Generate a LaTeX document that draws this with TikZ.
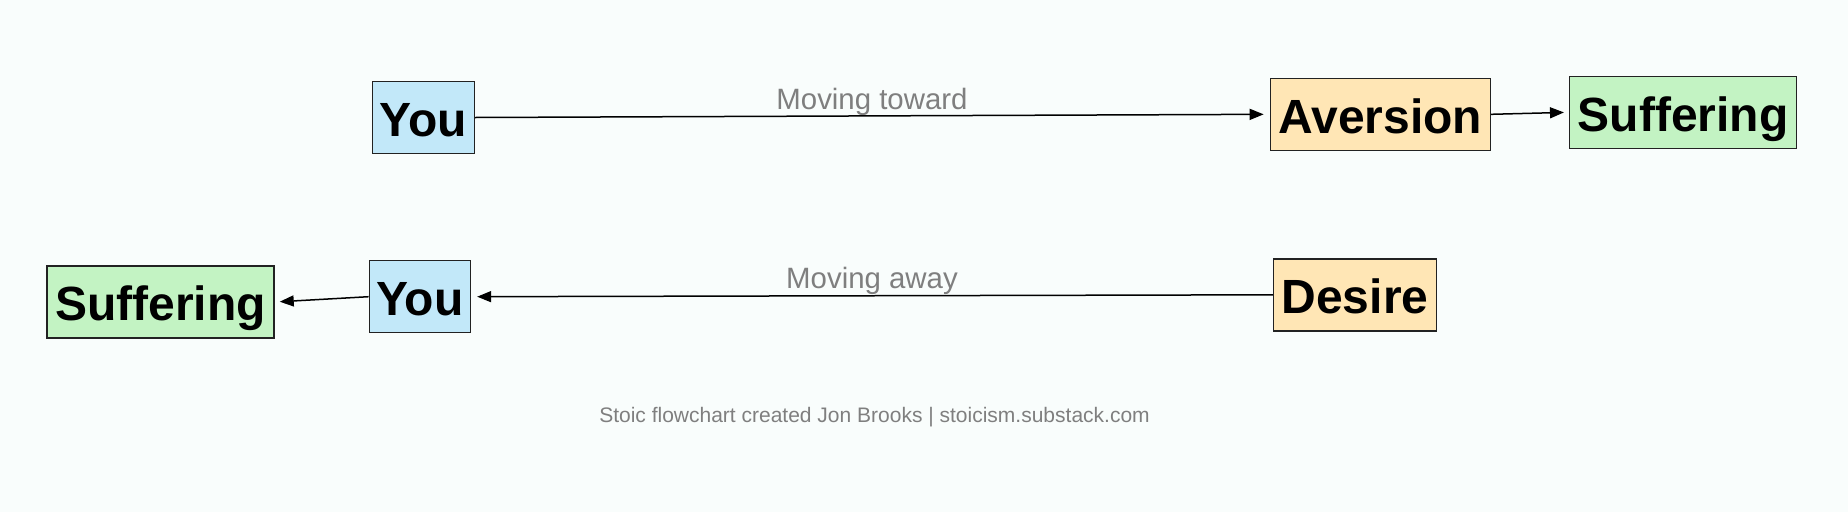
\documentclass[tikz,border=0pt]{standalone}
\usepackage{fontspec}
\setmainfont{Liberation Sans}
\usetikzlibrary{arrows.meta}
\definecolor{bgc}{HTML}{F9FDFC}
\definecolor{youc}{HTML}{C2E8F9}
\definecolor{orc}{HTML}{FFE6B5}
\definecolor{grc}{HTML}{C3F3C3}
\definecolor{edgec}{HTML}{222222}
\definecolor{txtgray}{HTML}{7F7F7F}
\begin{document}
\begin{tikzpicture}[x=1pt,y=-1pt,
  box/.style={draw=edgec,line width=1.5pt,inner sep=0pt,font=\fontsize{48}{52}\selectfont\bfseries,text=black,text height=37.4pt,text depth=0pt},
  conn/.style={draw=black,line width=1.5pt,-{Triangle[length=14pt,width=11pt]}},
  lbl/.style={text=txtgray,font=\fontsize{29.4}{33}\selectfont,anchor=base,inner sep=0pt},
  foot/.style={text=txtgray,font=\fontsize{21}{24}\selectfont,anchor=base,inner sep=0pt}]
\fill[bgc] (0,0) rectangle (1848,512);
\useasboundingbox (0,0) rectangle (1848,512);
% top row
\node[box,fill=youc,minimum width=102pt,minimum height=72pt] (youT) at (423.3,117.5) {You};
\node[box,fill=orc,minimum width=220pt,minimum height=72pt] (aversion) at (1380.4,114.3) {Aversion};
\node[box,fill=grc,minimum width=227pt,minimum height=72pt] (sufT) at (1683.2,112.3) {Suffering};
% bottom row
\node[box,fill=grc,minimum width=227pt,minimum height=72pt] (sufB) at (160.5,302) {Suffering};
\node[box,fill=youc,minimum width=101pt,minimum height=72pt] (youB) at (419.9,296.7) {You};
\node[box,fill=orc,minimum width=163pt,minimum height=72pt] (desire) at (1355,294.8) {Desire};
% labels
\node[lbl] (ltoward) at (872,109) {Moving toward};
\node[lbl] (laway) at (872,288) {Moving away};
\node[foot] (footer) at (874.5,422) {Stoic flowchart created Jon Brooks | stoicism.substack.com};
% connectors
\draw[conn,shorten >=6pt] (youT.east) -- (aversion.west);
\draw[conn,shorten >=5pt] (aversion.east) -- (sufT.west);
\draw[conn,shorten >=6pt] (desire.west) -- (youB.east);
\draw[conn,shorten >=5pt] (youB.west) -- (sufB.east);
\end{tikzpicture}
\end{document}
